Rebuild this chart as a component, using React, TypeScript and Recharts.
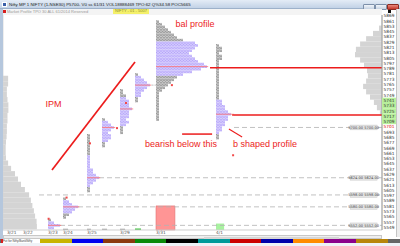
import React from 'react';
import {
  ComposedChart, XAxis, YAxis, CartesianGrid, Scatter,
  ReferenceArea, ReferenceLine, ReferenceDot,
} from 'recharts';

// price per TPO row
const TICK = 4;
// time axis is counted in TPO columns
const X_MAX = 126.33;

// sessions
const dayLabels = ['3/21', '3/22', '3/23', '3/24', '3/25', '', '3/29', '', '3/31', '4/1', ''];
const dayStarts = [1.3, 6.7, 15, 20, 28, 33, 39, 44, 51, 71, 116.33];
const gridDays = [15, 20, 28, 33, 39, 44, 51, 71, 116.33];

// right price scale
const priceTicks = [
  5869, 5861, 5853, 5845, 5837, 5829, 5821, 5813, 5805, 5797, 5789, 5781, 5773, 5765,
  5757, 5749, 5741, 5733, 5725, 5717, 5709, 5701, 5693, 5685, 5677, 5669, 5661, 5653,
  5645, 5637, 5629, 5621, 5613, 5605, 5597, 5589, 5581, 5573, 5565, 5557, 5549,
];
const valueAreaTicks = [5741, 5733, 5725, 5717, 5709];
const lastPrice = 5701;

// daily TPO profiles (row counts from top price downwards)
const tpo0323 = [1, 2, 4, 2];
const tpo0324 = [1, 2, 3, 5, 4, 3, 2, 1];
const tpo0325 = [1, 1, 1, 1, 1, 1, 1, 1, 1, 1, 1, 1, 1, 2, 2, 3, 4, 3, 2, 1, 1, 1];
const tpo0328 = [1, 2, 3, 4, 3, 2, 3, 3, 2, 1, 1];
const tpo0329 = [1, 1, 2, 2, 3, 3, 3, 4, 3, 3, 3, 2, 3, 2, 1, 1, 1];
const tpo0330 = [1, 2, 3, 4, 5, 4, 3, 2, 2, 1, 1];
const tpo0331 = [1, 2, 3, 4, 5, 6, 7, 9, 13, 14, 13, 12, 11, 12, 13, 14, 16, 17, 15, 12, 9,
  7, 6, 5, 4, 3, 2, 1, 1, 1, 1, 1, 1, 1, 1, 1, 1, 1];
const tpo0401 = [1, 2, 2, 1, 2, 2, 1, 1, 1, 1, 1, 1, 1, 1, 1, 1, 1, 1, 1, 1, 1,
  2, 2, 3, 3, 4, 5, 4, 4, 3, 3, 2, 2, 1, 1, 1];
const profCounts = [tpo0323, tpo0324, tpo0325, tpo0328, tpo0329, tpo0330, tpo0331, tpo0401];
const profStart = [15, 20, 28, 33, 39, 44, 51, 71];
const profTop = [5562, 5594, 5690, 5714, 5758, 5782, 5862, 5826];
const profVaHigh = [1, 1, 8, 1, 3, 1, 8, 21];
const profVaLow = [3, 5, 19, 8, 13, 8, 20, 33];
const profPoc = [2, 3, 16, 3, 7, 4, 17, 26];

// composite profiles (8 point rows)
const leftCompTop = 5778;
const leftComp = [1.7, 1.7, 1.3, 1.3, 1.5, 1.8, 1.8, 1.5, 1.5, 1.3, 1.3, 1.2, 1.0, 0.9, 0.9,
  1.0, 1.7, 2.7, 4, 5, 6, 7.3, 8.7, 9.3, 9.8, 10.3, 10.7, 11.2, 11.3];
const rightCompTop = 5854;
const rightComp = [1, 3, 5.3, 7.3, 8.7, 9, 7.3, 6, 5, 4.7, 5.3, 6.3, 5.3, 4, 2.7, 1.7, 0.7];

// volume boxes
const volStart = [20, 28, 33, 39, 44, 51, 71];
const volRange = [1.7, 1.3, 1.7, 1.7, 2, 6.3, 2.7];
const volValue = [0.6, 0.6, 0.6, 0.6, 0.7, 11.2, 3];
const volColors = ['#a3a3a3', '#a3a3a3', '#a3a3a3', '#a3a3a3', '#3cc43c', '#ff9595', '#a8f2a0'];

// naked levels
const levelPrice = [5552, 5580, 5598, 5624, 5700];
const levelFrom = [19, 25, 12, 32, 77];
const levelText = ['5552.00  5552.00', '5580.00  5580.00', '5598.00  5598.00', '5624.00  5624.00', '5700.00  5700.00'];

// open markers
const openX = [15.2, 21.2, 29, 38, 41, 56.3, 76.7, 76.7];
const openPrice = [5562, 5594, 5676, 5699, 5737, 5764, 5719, 5658];
const openMarks = openX.map((x, i) => ({ x, y: openPrice[i] }));

// annotations
const noteText = ['IPM', 'bal profile', 'bearish below this', 'b shaped profile'];
const noteX = [16.8, 64, 59.3, 87.3];
const notePrice = [5735.5, 5856.4, 5675, 5675];
const redFromX = [16.33, 69, 77, 59.7, 75.3];
const redFromP = [5635.7, 5790.3, 5719, 5690, 5697.7];
const redToX = [44, X_MAX, X_MAX, 69.7, 79.7];
const redToP = [5799, 5790.3, 5719, 5690, 5685.6];

const titleText = 'Nifty MP 1 NIFTY (1-NSE30) P5700- V0 ss 61/31 VOL18888469 TPO:62 Q%34.58 POC5665';
const infoText = 'Market Profile  TPO 30  ALL  61/2014  Reserved';
const infoHighlight = 'NIFTY - 01 - 5007';
const stripColors = ['#c8b400', '#0000ee', '#8b3a0f', '#0a8a0a', '#000000', '#009a9a',
  '#cc0000', '#0000aa', '#ff8c00', '#8b008b', '#b8860b'];

const RED = '#ec1c1c';

function PriceTick(props: any) {
  const { x, y, payload } = props;
  const v = payload.value as number;
  const inVa = valueAreaTicks.includes(v);
  return (
    <g>
      {inVa && <rect x={x} y={y - 2.65} width={14} height={5.3} fill="#b8ef9c" />}
      <text x={x + 1.5} y={y + 1.6} fontSize={4.3} fontFamily="DejaVu Sans"
        fill={v === lastPrice ? '#e00000' : '#333'}>{v}</text>
    </g>
  );
}

function DayTick(props: any) {
  const { x, y, payload } = props;
  const label = dayLabels[dayStarts.indexOf(payload.value)];
  if (!label) return <g />;
  return <text x={x} y={y + 4} fontSize={4.3} fontFamily="DejaVu Sans" fill="#555">{label}</text>;
}

export default function App() {
  const rows: React.ReactElement[] = [];
  profCounts.forEach((counts, p) => {
    counts.forEach((c, k) => {
      const hi = profTop[p] - TICK * k;
      const inVa = k >= profVaHigh[p] && k <= profVaLow[p];
      rows.push(
        <ReferenceArea key={`r${p}-${k}`} yAxisId="p" x1={profStart[p]} x2={profStart[p] + c}
          y1={hi - TICK} y2={hi} fill={inVa ? 'url(#tpoVa)' : 'url(#tpoOut)'} fillOpacity={1}
          ifOverflow="visible" />
      );
    });
  });

  const comps: React.ReactElement[] = [];
  leftComp.forEach((w, k) => {
    const hi = leftCompTop - 8 * k;
    comps.push(<ReferenceArea key={`l${k}`} yAxisId="p" x1={0} x2={w} y1={hi - 8} y2={hi}
      fill="#d4d4d4" fillOpacity={1} ifOverflow="visible" />);
  });
  rightComp.forEach((w, k) => {
    const hi = rightCompTop - 8 * k;
    comps.push(<ReferenceArea key={`rc${k}`} yAxisId="p" x1={X_MAX - w} x2={X_MAX} y1={hi - 8} y2={hi}
      fill="#d4d4d4" fillOpacity={1} ifOverflow="visible" />);
  });

  return (
    <div style={{ position: 'fixed', left: 0, top: 0, width: 400, height: 246, background: '#fff', overflow: 'hidden', fontFamily: 'Liberation Sans, Arial, sans-serif' }}>
      <svg width={0} height={0} style={{ position: 'absolute' }}>
        <defs>
          <pattern id="tpoVa" patternUnits="userSpaceOnUse" x={3} y={15} width={3} height={2.646}>
            <rect width={3} height={2.646} fill="#c1b3fb" />
            <path d="M0 0.2H3M0.2 0V2.646" stroke="#e6e0ff" strokeWidth={0.6} />
            <rect x={0} y={0} width={0.6} height={0.6} fill="#7b62ee" />
          </pattern>
          <pattern id="tpoOut" patternUnits="userSpaceOnUse" x={3} y={15} width={3} height={2.646}>
            <rect width={3} height={2.646} fill="#a4a4a4" />
            <path d="M0 0.2H3M0.2 0V2.646" stroke="#e4e4e4" strokeWidth={0.6} />
            <rect x={0} y={0} width={0.6} height={0.6} fill="#333" />
          </pattern>
        </defs>
      </svg>

      <ComposedChart width={400} height={246} data={openMarks} style={{ position: 'absolute', left: 0, top: 0 }}
        margin={{ top: 15, right: 4, bottom: 10, left: 3 }}>
        <XAxis xAxisId={0} type="number" dataKey="x" domain={[0, X_MAX]} ticks={dayStarts} interval={0}
          tick={<DayTick />} tickLine={false} tickSize={0} tickMargin={0} height={6}
          axisLine={{ stroke: '#cfcfcf' }} allowDataOverflow />
        <XAxis xAxisId="g" type="number" domain={[0, X_MAX]} ticks={gridDays} interval={0} hide allowDataOverflow />
        <YAxis yAxisId="p" orientation="right" type="number" dataKey="y" domain={[5545, 5870]}
          ticks={priceTicks} interval={0} width={14} tick={<PriceTick />} tickLine={false}
          tickSize={0} tickMargin={0} axisLine={{ stroke: '#9a9a9a' }} allowDataOverflow />
        <YAxis yAxisId="v" type="number" domain={[0, 100]} hide allowDataOverflow />
        <CartesianGrid xAxisId="g" yAxisId="p" horizontal={false} stroke="#dedede" />

        {comps}

        {volStart.map((s, i) => (
          <ReferenceArea key={`v${i}`} yAxisId="v" x1={s} x2={s + volRange[i]} y1={0} y2={volValue[i]}
            fill={volColors[i]} fillOpacity={1} stroke={i === 5 ? '#e07272' : 'none'} strokeWidth={0.6}
            ifOverflow="visible" />
        ))}

        {levelPrice.map((p, i) => (
          <ReferenceLine key={`lv${i}`} yAxisId="p" segment={[{ x: levelFrom[i], y: p }, { x: X_MAX, y: p }]}
            stroke="#b2b2b2" strokeWidth={0.8} strokeDasharray="5 3" />
        ))}
        <ReferenceLine yAxisId="p" segment={[{ x: 49.5, y: 5764 }, { x: 51, y: 5764 }]}
          stroke="#b2b2b2" strokeWidth={0.8} strokeDasharray="2 1" />

        {rows}

        {profCounts.map((counts, p) => {
          const price = profTop[p] - TICK * profPoc[p] - TICK / 2;
          return (
            <ReferenceLine key={`poc${p}`} yAxisId="p"
              segment={[{ x: profStart[p], y: price }, { x: profStart[p] + counts[profPoc[p]] + 0.4, y: price }]}
              stroke="#ff7070" strokeWidth={0.8} />
          );
        })}

        {levelPrice.map((p, i) => (
          <ReferenceDot key={`lb${i}`} yAxisId="p" x={115.7} y={p} r={1} ifOverflow="visible"
            shape={(props: any) => (
              <g>
                <rect x={props.cx} y={props.cy - 2.4} width={27} height={4.8} fill="#e4e4e4" stroke="#bcbcbc" strokeWidth={0.4} />
                <text x={props.cx + 13.5} y={props.cy + 1.3} fontSize={3.6} textAnchor="middle" fill="#444" fontFamily="DejaVu Sans">{levelText[i]}</text>
              </g>
            )} />
        ))}

        {redFromX.map((x, i) => (
          <ReferenceLine key={`red${i}`} yAxisId="p"
            segment={[{ x, y: redFromP[i] }, { x: redToX[i], y: redToP[i] }]}
            stroke={RED} strokeWidth={i === 0 ? 1.7 : i === 4 ? 1.1 : 1.5} ifOverflow="visible" />
        ))}

        {noteText.map((t, i) => (
          <ReferenceDot key={`n${i}`} yAxisId="p" x={noteX[i]} y={notePrice[i]} r={1} ifOverflow="visible"
            shape={(props: any) => (
              <text x={props.cx} y={props.cy} textAnchor="middle" dominantBaseline="central" fontSize={9}
                fill={RED} fontFamily="Liberation Sans, Arial">{t}</text>
            )} />
        ))}

        <Scatter yAxisId="p" data={openMarks} isAnimationActive={false}
          shape={(props: any) => <rect x={props.cx - 1} y={props.cy - 1} width={2} height={2} fill="#f24a4a" />} />
      </ComposedChart>

      {/* window title bar */}
      <div style={{ position: 'absolute', left: 0, top: 0, width: 400, height: 9, background: 'linear-gradient(#e4ecf6, #c2d2e6)', borderBottom: '1px solid #9db1ca', boxSizing: 'border-box' }}>
        <div style={{ position: 'absolute', left: 2, top: 2, width: 5, height: 5, background: '#3a5fa8', border: '0.5px solid #fff', boxSizing: 'border-box' }} />
        <div style={{ position: 'absolute', left: 9, top: 1.8, fontSize: 4.4, lineHeight: '5px', color: '#1b1b1b', whiteSpace: 'nowrap' }}>{titleText}</div>
        <div style={{ position: 'absolute', left: 363, top: 3.5, width: 10, height: 4.5, background: 'linear-gradient(#f1f5fa, #c6d3e3)', border: '0.5px solid #7d90aa', borderRadius: 1 }} />
        <div style={{ position: 'absolute', left: 375, top: 3.5, width: 10, height: 4.5, background: 'linear-gradient(#f1f5fa, #c6d3e3)', border: '0.5px solid #7d90aa', borderRadius: 1 }} />
        <div style={{ position: 'absolute', left: 387, top: 3.5, width: 10, height: 4.5, background: 'linear-gradient(#e98a7e, #c3372b)', border: '0.5px solid #8a2a22', borderRadius: 1 }} />
      </div>
      {/* frame */}
      <div style={{ position: 'absolute', left: 0, top: 9, width: 3, height: 237, background: '#b5c7dd' }} />
      {/* info bar */}
      <div style={{ position: 'absolute', left: 3, top: 9, width: 379, height: 5.5, background: '#f4f4f4', whiteSpace: 'nowrap' }}>
        <div style={{ position: 'absolute', left: 0, top: 0.8, width: 3, height: 3.5, background: '#d81e1e' }} />
        <div style={{ position: 'absolute', left: 4, top: 0.5, fontSize: 4, lineHeight: '4.5px', color: '#9a9a9a' }}>{infoText}</div>
        <div style={{ position: 'absolute', left: 110, top: 0.3, height: 4.6, padding: '0 2px', fontSize: 4, lineHeight: '4.6px', color: '#8c8c30', background: '#f4f06a' }}>{infoHighlight}</div>
      </div>
      <div style={{ position: 'absolute', left: 388, top: 9.5, width: 3, height: 3.5, background: '#111' }} />
      {/* right scrollbar */}
      <div style={{ position: 'absolute', left: 396, top: 9, width: 4, height: 228, background: '#ececec', borderLeft: '0.5px solid #c4c4c4', boxSizing: 'border-box' }} />
      {/* bottom scrollbar */}
      <div style={{ position: 'absolute', left: 3, top: 235, width: 379, height: 3.5, background: '#eeeeee', border: '0.5px solid #c8c8c8', boxSizing: 'border-box' }}>
        <div style={{ position: 'absolute', left: 200, top: 0.5, width: 135, height: 2, background: '#d6d6d6' }} />
      </div>
      {/* instrument colour strip */}
      <div style={{ position: 'absolute', left: 0, top: 239, width: 400, height: 4, background: '#666' }}>
        <div style={{ position: 'absolute', left: 1, top: 0, width: 2, height: 4, background: '#d81e1e' }} />
        <div style={{ position: 'absolute', left: 3, top: 0, width: 37, height: 4, background: '#fff', fontSize: 3, lineHeight: '4px', color: '#444', whiteSpace: 'nowrap', overflow: 'hidden' }}>Fut for Nifty/BankNifty</div>
        {stripColors.map((c, i) => (
          <div key={c + i} style={{ position: 'absolute', left: 40 + i * 31.6, top: 0, width: 31.6, height: 4, background: c }} />
        ))}
      </div>
      <div style={{ position: 'absolute', left: 0, top: 243, width: 400, height: 3, background: '#eef2f7' }} />
    </div>
  );
}
